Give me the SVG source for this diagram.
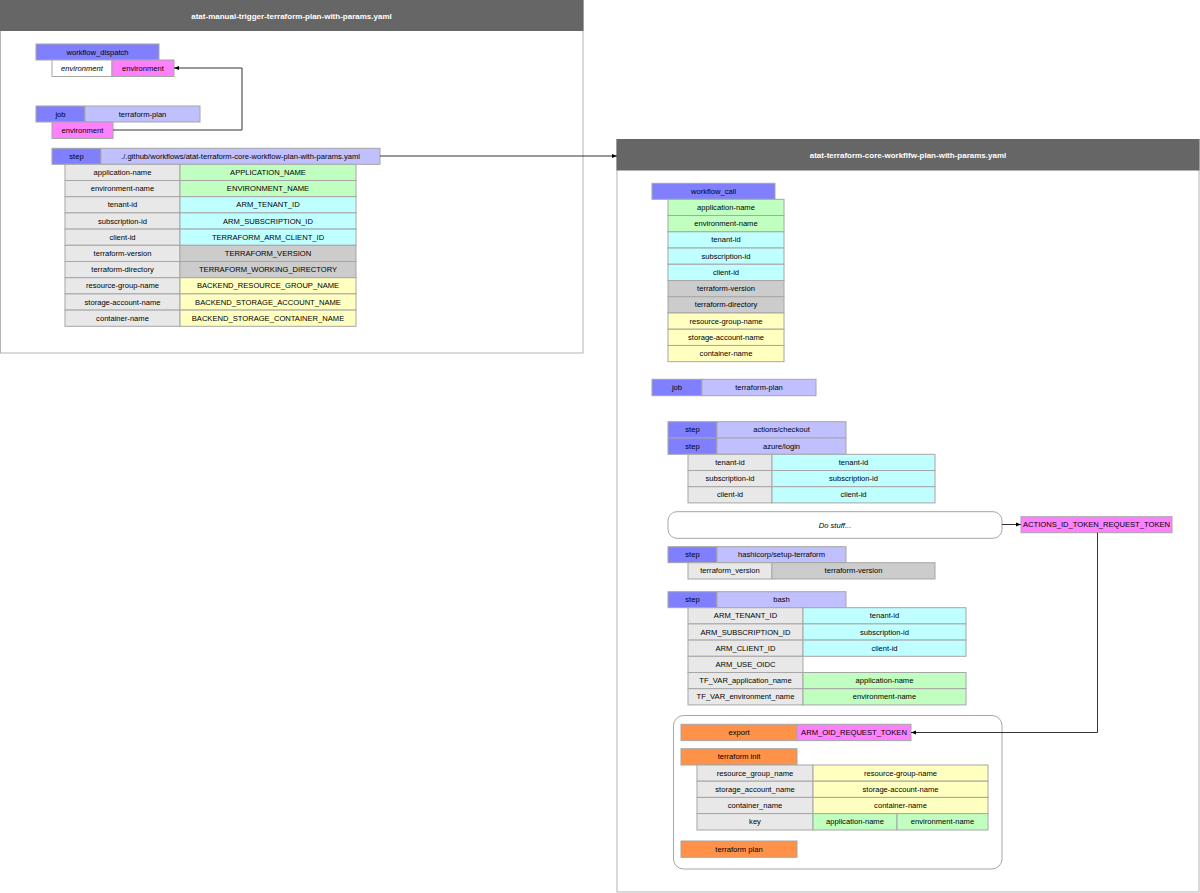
<svg xmlns="http://www.w3.org/2000/svg" width="1200" height="893" viewBox="0 0 1200 893">
<style>
rect{stroke:#a6a6a6;stroke-width:1}
.bg{fill:#fff;stroke:none}
.pan{fill:#fff;stroke:#b3b3b3}
.hdr{fill:#666666;stroke:#666666}
text{font-family:"Liberation Sans",Arial,sans-serif;font-size:7.6px;fill:#000;text-anchor:middle;dominant-baseline:central}
.ht{fill:#fff;font-weight:bold;font-size:8px}
.it{font-style:italic}
.b1{fill:#8080ff}
.b2{fill:#c0c0ff}
.mg{fill:#ff80ff}
.gr{fill:#c0ffc0}
.cy{fill:#c0ffff}
.gy{fill:#cccccc}
.lg{fill:#e8e8e8}
.ye{fill:#ffffc0}
.or{fill:#ff9148}
.wh{fill:#ffffff}
.rnd{fill:#fff;stroke:#a6a6a6}
.con{fill:none;stroke:#333;stroke-width:1;marker-end:url(#ah)}
</style>
<defs>
<marker id="ah" viewBox="0 0 10 10" refX="10" refY="5" markerWidth="5" markerHeight="5" orient="auto" markerUnits="userSpaceOnUse">
<path d="M0,1 L10,5 L0,9 z" fill="#000"/>
</marker>
</defs>
<rect class="bg" width="1200" height="893"/>

<g id="panel-left">
<rect class="pan" x="0.5" y="0.5" width="582.5" height="352.5"/>
<rect class="hdr" x="0.5" y="0.5" width="582.5" height="30"/>
<text class="ht" x="291.5" y="16">atat-manual-trigger-terraform-plan-with-params.yaml</text>
</g>

<g id="panel-right">
<rect class="pan" x="617" y="139.5" width="582" height="752.5"/>
<rect class="hdr" x="617" y="139.5" width="582" height="30.5"/>
<text class="ht" x="908" y="155">atat-terraform-core-workflfw-plan-with-params.yaml</text>
</g>

<g id="workflow-dispatch">
<rect class="b1" x="36" y="44" width="123" height="16"/>
<text x="97.5" y="52">workflow_dispatch</text>
<rect class="wh" x="52" y="60" width="60" height="16.5"/>
<text class="it" x="82" y="68.3">environment</text>
<rect class="mg" x="112" y="60" width="62" height="16.5"/>
<text x="143" y="68.3">environment</text>
</g>

<g id="job-left">
<rect class="b1" x="36" y="106" width="49" height="16"/>
<text x="60.5" y="114">job</text>
<rect class="b2" x="85" y="106" width="115" height="16"/>
<text x="142.5" y="114">terraform-plan</text>
<rect class="mg" x="52" y="122" width="61" height="16.5"/>
<text x="82.5" y="130.3">environment</text>
</g>

<g id="step-left">
<rect class="b1" x="52" y="148.3" width="49" height="16"/>
<text x="76.5" y="156.3">step</text>
<rect class="b2" x="101" y="148.3" width="279" height="16"/>
<text x="240.5" y="156.3">./.github/workflows/atat-terraform-core-workflow-plan-with-params.yaml</text>
<rect class="lg" x="65" y="164.3" width="115" height="16.2"/><text x="122.5" y="172.4">application-name</text>
<rect class="gr" x="180" y="164.3" width="176" height="16.2"/><text x="268" y="172.4">APPLICATION_NAME</text>
<rect class="lg" x="65" y="180.5" width="115" height="16.2"/><text x="122.5" y="188.6">environment-name</text>
<rect class="gr" x="180" y="180.5" width="176" height="16.2"/><text x="268" y="188.6">ENVIRONMENT_NAME</text>
<rect class="lg" x="65" y="196.7" width="115" height="16.2"/><text x="122.5" y="204.8">tenant-id</text>
<rect class="cy" x="180" y="196.7" width="176" height="16.2"/><text x="268" y="204.8">ARM_TENANT_ID</text>
<rect class="lg" x="65" y="212.9" width="115" height="16.2"/><text x="122.5" y="221">subscription-id</text>
<rect class="cy" x="180" y="212.9" width="176" height="16.2"/><text x="268" y="221">ARM_SUBSCRIPTION_ID</text>
<rect class="lg" x="65" y="229.1" width="115" height="16.2"/><text x="122.5" y="237.2">client-id</text>
<rect class="cy" x="180" y="229.1" width="176" height="16.2"/><text x="268" y="237.2">TERRAFORM_ARM_CLIENT_ID</text>
<rect class="lg" x="65" y="245.3" width="115" height="16.2"/><text x="122.5" y="253.4">terraform-version</text>
<rect class="gy" x="180" y="245.3" width="176" height="16.2"/><text x="268" y="253.4">TERRAFORM_VERSION</text>
<rect class="lg" x="65" y="261.5" width="115" height="16.2"/><text x="122.5" y="269.6">terraform-directory</text>
<rect class="gy" x="180" y="261.5" width="176" height="16.2"/><text x="268" y="269.6">TERRAFORM_WORKING_DIRECTORY</text>
<rect class="lg" x="65" y="277.7" width="115" height="16.2"/><text x="122.5" y="285.8">resource-group-name</text>
<rect class="ye" x="180" y="277.7" width="176" height="16.2"/><text x="268" y="285.8">BACKEND_RESOURCE_GROUP_NAME</text>
<rect class="lg" x="65" y="293.9" width="115" height="16.2"/><text x="122.5" y="302">storage-account-name</text>
<rect class="ye" x="180" y="293.9" width="176" height="16.2"/><text x="268" y="302">BACKEND_STORAGE_ACCOUNT_NAME</text>
<rect class="lg" x="65" y="310.1" width="115" height="16.2"/><text x="122.5" y="318.2">container-name</text>
<rect class="ye" x="180" y="310.1" width="176" height="16.2"/><text x="268" y="318.2">BACKEND_STORAGE_CONTAINER_NAME</text>
</g>

<g id="workflow-call">
<rect class="b1" x="652" y="183.3" width="123" height="16"/>
<text x="713.5" y="191.3">workflow_call</text>
<rect class="gr" x="668" y="199.3" width="116" height="16.24"/><text x="726" y="207.4">application-name</text>
<rect class="gr" x="668" y="215.54" width="116" height="16.24"/><text x="726" y="223.7">environment-name</text>
<rect class="cy" x="668" y="231.78" width="116" height="16.24"/><text x="726" y="239.9">tenant-id</text>
<rect class="cy" x="668" y="248.02" width="116" height="16.24"/><text x="726" y="256.1">subscription-id</text>
<rect class="cy" x="668" y="264.26" width="116" height="16.24"/><text x="726" y="272.4">client-id</text>
<rect class="gy" x="668" y="280.5" width="116" height="16.24"/><text x="726" y="288.6">terraform-version</text>
<rect class="gy" x="668" y="296.74" width="116" height="16.24"/><text x="726" y="304.9">terraform-directory</text>
<rect class="ye" x="668" y="312.98" width="116" height="16.24"/><text x="726" y="321.1">resource-group-name</text>
<rect class="ye" x="668" y="329.22" width="116" height="16.24"/><text x="726" y="337.3">storage-account-name</text>
<rect class="ye" x="668" y="345.46" width="116" height="16.24"/><text x="726" y="353.6">container-name</text>
</g>

<g id="job-right">
<rect class="b1" x="652" y="379.3" width="50" height="16.4"/>
<text x="677" y="387.5">job</text>
<rect class="b2" x="702" y="379.3" width="114" height="16.4"/>
<text x="759" y="387.5">terraform-plan</text>
</g>

<g id="step-checkout">
<rect class="b1" x="668" y="421.7" width="49" height="16.3"/>
<text x="692.5" y="429.9">step</text>
<rect class="b2" x="717" y="421.7" width="129" height="16.3"/>
<text x="781.5" y="429.9">actions/checkout</text>
</g>

<g id="step-azure-login">
<rect class="b1" x="668" y="438" width="49" height="16.3"/>
<text x="692.5" y="446.2">step</text>
<rect class="b2" x="717" y="438" width="129" height="16.3"/>
<text x="781.5" y="446.2">azure/login</text>
<rect class="lg" x="688" y="454.3" width="84" height="16.2"/><text x="730" y="462.4">tenant-id</text>
<rect class="cy" x="772" y="454.3" width="163" height="16.2"/><text x="853.5" y="462.4">tenant-id</text>
<rect class="lg" x="688" y="470.5" width="84" height="16.2"/><text x="730" y="478.6">subscription-id</text>
<rect class="cy" x="772" y="470.5" width="163" height="16.2"/><text x="853.5" y="478.6">subscription-id</text>
<rect class="lg" x="688" y="486.7" width="84" height="16.2"/><text x="730" y="494.8">client-id</text>
<rect class="cy" x="772" y="486.7" width="163" height="16.2"/><text x="853.5" y="494.8">client-id</text>
</g>

<g id="do-stuff">
<rect class="rnd" x="668" y="511.7" width="334" height="26.6" rx="9" ry="9"/>
<text class="it" x="835" y="525">Do stuff...</text>
</g>

<g id="actions-token">
<rect class="mg" x="1021" y="516.7" width="151" height="16"/>
<text x="1096.5" y="524.7">ACTIONS_ID_TOKEN_REQUEST_TOKEN</text>
</g>

<g id="step-setup-terraform">
<rect class="b1" x="668" y="546.7" width="49" height="16"/>
<text x="692.5" y="554.7">step</text>
<rect class="b2" x="717" y="546.7" width="129" height="16"/>
<text x="781.5" y="554.7">hashicorp/setup-terraform</text>
<rect class="lg" x="688" y="562.7" width="84" height="16.3"/><text x="730" y="570.9">terraform_version</text>
<rect class="gy" x="772" y="562.7" width="163" height="16.3"/><text x="853.5" y="570.9">terraform-version</text>
</g>

<g id="step-bash">
<rect class="b1" x="668" y="591.7" width="49" height="16"/>
<text x="692.5" y="599.7">step</text>
<rect class="b2" x="717" y="591.7" width="129" height="16"/>
<text x="781.5" y="599.7">bash</text>
<rect class="lg" x="688" y="607.7" width="115" height="16.2"/><text x="745.5" y="615.8">ARM_TENANT_ID</text>
<rect class="cy" x="803" y="607.7" width="163" height="16.2"/><text x="884.5" y="615.8">tenant-id</text>
<rect class="lg" x="688" y="623.9" width="115" height="16.2"/><text x="745.5" y="632">ARM_SUBSCRIPTION_ID</text>
<rect class="cy" x="803" y="623.9" width="163" height="16.2"/><text x="884.5" y="632">subscription-id</text>
<rect class="lg" x="688" y="640.1" width="115" height="16.2"/><text x="745.5" y="648.2">ARM_CLIENT_ID</text>
<rect class="cy" x="803" y="640.1" width="163" height="16.2"/><text x="884.5" y="648.2">client-id</text>
<rect class="lg" x="688" y="656.3" width="115" height="16.2"/><text x="745.5" y="664.4">ARM_USE_OIDC</text>
<rect class="lg" x="688" y="672.5" width="115" height="16.2"/><text x="745.5" y="680.6">TF_VAR_application_name</text>
<rect class="gr" x="803" y="672.5" width="163" height="16.2"/><text x="884.5" y="680.6">application-name</text>
<rect class="lg" x="688" y="688.7" width="115" height="16.2"/><text x="745.5" y="696.8">TF_VAR_environment_name</text>
<rect class="gr" x="803" y="688.7" width="163" height="16.2"/><text x="884.5" y="696.8">environment-name</text>
</g>

<g id="bash-script">
<rect class="rnd" x="673.5" y="715.5" width="328.5" height="153.5" rx="10" ry="10"/>
</g>

<g id="export">
<rect class="or" x="681" y="724.3" width="116" height="16.3"/>
<text x="739" y="732.5">export</text>
<rect class="mg" x="797" y="724.3" width="114" height="16.3"/>
<text x="854" y="732.5">ARM_OID_REQUEST_TOKEN</text>
</g>

<g id="terraform-init">
<rect class="or" x="681" y="748.7" width="116" height="16.3"/>
<text x="739" y="756.9">terraform init</text>
<rect class="lg" x="697" y="765" width="116" height="16.2"/><text x="755" y="773.1">resource_group_name</text>
<rect class="ye" x="813" y="765" width="175" height="16.2"/><text x="900.5" y="773.1">resource-group-name</text>
<rect class="lg" x="697" y="781.2" width="116" height="16.2"/><text x="755" y="789.3">storage_account_name</text>
<rect class="ye" x="813" y="781.2" width="175" height="16.2"/><text x="900.5" y="789.3">storage-account-name</text>
<rect class="lg" x="697" y="797.4" width="116" height="16.2"/><text x="755" y="805.5">container_name</text>
<rect class="ye" x="813" y="797.4" width="175" height="16.2"/><text x="900.5" y="805.5">container-name</text>
<rect class="lg" x="697" y="813.6" width="116" height="16.4"/><text x="755" y="821.8">key</text>
<rect class="gr" x="813" y="813.6" width="84" height="16.4"/><text x="855" y="821.8">application-name</text>
<rect class="gr" x="897" y="813.6" width="91" height="16.4"/><text x="942.5" y="821.8">environment-name</text>
</g>

<g id="terraform-plan-cmd">
<rect class="or" x="681" y="841" width="116" height="16.3"/>
<text x="739" y="849.2">terraform plan</text>
</g>

<g id="connectors">
<path class="con" d="M113,130 H242 V68 H174"/>
<path class="con" d="M380,156 H617"/>
<path class="con" d="M1002,524.5 H1021"/>
<path class="con" d="M1097.5,532.7 V732.5 H911"/>
</g>
</svg>
